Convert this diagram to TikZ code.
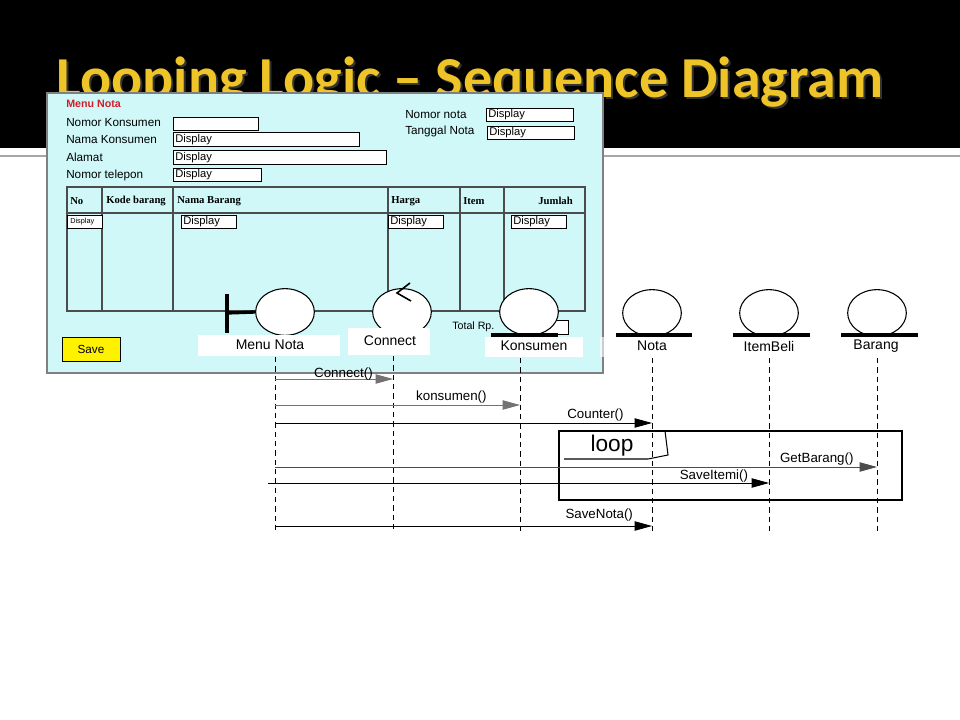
\documentclass[tikz,border=0pt]{standalone}
\usepackage{fontspec}
\usepackage{graphicx}
\setmainfont{Liberation Sans}
\newfontfamily\titlefont{Carlito}
\newfontfamily\serfont{Liberation Serif}
\usetikzlibrary{arrows.meta,shapes.geometric}
\definecolor{gold}{RGB}{238,196,40}
\definecolor{formbg}{RGB}{208,248,248}
\definecolor{redt}{RGB}{210,30,40}
\tikzset{
  lbl/.style={anchor=west,font=\fontsize{8.8}{10}\selectfont,inner sep=0pt},
  fbox/.style={draw=black,fill=white,line width=0.6pt,anchor=north west,inner sep=0pt},
  disp/.style={anchor=west,font=\fontsize{8.4}{9}\selectfont,inner sep=1.5pt},
  th/.style={anchor=west,font=\serfont\bfseries\fontsize{8}{9}\selectfont,inner sep=0pt},
  tline/.style={draw=black!70,line width=0.8pt},
  ent/.style={draw=black,fill=white,ellipse,line width=0.8pt},
  lifelbl/.style={fill=white,font=\fontsize{10.5}{12}\selectfont,inner sep=0pt},
  life/.style={dashed,line width=0.5pt,dash pattern=on 4pt off 3pt},
  msg/.style={line width=0.6pt,-{Triangle[length=13pt,width=7pt]}},
  msglbl/.style={font=\fontsize{10}{11}\selectfont,anchor=south,inner sep=1pt},
  bar/.style={line width=3pt}
}
\begin{document}
\begin{tikzpicture}[x=0.75pt,y=-0.75pt]
\useasboundingbox (0,0) rectangle (960,720);
\fill[white] (0,0) rectangle (960,720);
\fill[black] (0,0) rectangle (960,148);
\draw[black!35,line width=2pt] (0,156) -- (960,156);
% title
\node[text=black!80] (titlesh) at (472,84) {\resizebox{620pt}{!}{\titlefont\bfseries Looping Logic – Sequence Diagram}};
\node[text=gold] (title) at (470,82) {\resizebox{620pt}{!}{\titlefont\bfseries Looping Logic – Sequence Diagram}};
% form
\draw[fill=formbg,draw=black!50,line width=0.8pt] (47,93) rectangle (603,373);
\node[lbl,text=redt,font=\bfseries\fontsize{8}{9}\selectfont] (mn) at (66,104) {Menu Nota};
\node[lbl] (l1) at (66,123) {Nomor Konsumen};
\node[lbl] (l2) at (66,140) {Nama Konsumen};
\node[lbl] (l3) at (66,157) {Alamat};
\node[lbl] (l4) at (66,175) {Nomor telepon};
\draw[fbox] (173,117) rectangle (258,130);
\draw[fbox] (173,132) rectangle (359,146); \node[disp] (d2) at (173,139.5) {Display};
\draw[fbox] (173,150) rectangle (386,164); \node[disp] (d3) at (173,157.5) {Display};
\draw[fbox] (173,168) rectangle (261,181); \node[disp] (d4) at (173,175) {Display};
\node[lbl] (l5) at (405,115) {Nomor nota};
\node[lbl] (l6) at (405,131) {Tanggal Nota};
\draw[fbox] (486,108) rectangle (573,121); \node[disp] (d5) at (486,114.5) {Display};
\draw[fbox] (487,126) rectangle (574,139); \node[disp] (d6) at (487,132.5) {Display};
% table
\draw[tline] (67,187) rectangle (585,311);
\draw[tline] (67,213) -- (585,213);
\foreach \cx in {102,173,388,460,504} \draw[tline] (\cx,187) -- (\cx,311);
\node[th] (h1) at (70,201) {No};
\node[th] (h2) at (106,201) {Kode barang};
\node[th] (h3) at (177,201) {Nama Barang};
\node[th] (h4) at (391,201) {Harga};
\node[th] (h5) at (463,201) {Item};
\node[th,anchor=east] (h6) at (573,201) {Jumlah};
\draw[fbox] (67,215) rectangle (102,228); \node[disp,font=\fontsize{5.5}{6}\selectfont] (r1) at (68,221.5) {Display};
\draw[fbox] (181,215) rectangle (236,228); \node[disp] (r2) at (181,222) {Display};
\draw[fbox] (388,215) rectangle (443,228); \node[disp] (r3) at (388,222) {Display};
\draw[fbox] (511,215) rectangle (566,228); \node[disp] (r4) at (511,222) {Display};
\draw[fill=yellow,draw=black,line width=0.6pt] (62,337) rectangle (120,361);
\node[font=\fontsize{8.8}{10}\selectfont] (save) at (91,349) {Save};
\node[lbl,font=\fontsize{8}{9}\selectfont] (tot) at (452,327) {Total Rp.};
\draw[fbox] (524,320) rectangle (568,334);
% lifelines heads
\node[ent,minimum width=44pt,minimum height=35pt] (e1) at (285,312) {};
\node[ent,minimum width=44pt,minimum height=35pt] (e2) at (402,312) {};
\node[ent,minimum width=44pt,minimum height=35pt] (e3) at (529,312) {};
\node[ent,minimum width=44pt,minimum height=35pt] (e4) at (652,313) {};
\node[ent,minimum width=44pt,minimum height=35pt] (e5) at (769,313) {};
\node[ent,minimum width=44pt,minimum height=35pt] (e6) at (877,313) {};
\draw[bar] (227,294) -- (227,333);
\draw[line width=2.5pt] (227,313) -- (e1.west);
\draw[line width=1.2pt] (410,283) -- (397,293) -- (411,301);
\draw[bar] (491,335) -- (558,335);
\draw[bar] (616,335) -- (692,335);
\draw[bar] (733,335) -- (810,335);
\draw[bar] (841,335) -- (918,335);
\fill[white] (198,335) rectangle (340,356);
\fill[white] (348,328) rectangle (430,355);
\fill[white] (485,337) rectangle (583,357);
\fill[white,opacity=0.6] (600,337) rectangle (705,357);
\fill[white,opacity=0.6] (722,337) rectangle (820,357);
\fill[white,opacity=0.6] (830,337) rectangle (925,357);
\node[lifelbl] (n1) at (270,345) {Menu Nota};
\node[lifelbl] (n2) at (390,341) {Connect};
\node[lifelbl] (n3) at (534,346) {Konsumen};
\node[lifelbl] (n4) at (652,346) {Nota};
\node[lifelbl] (n5) at (769,346) {ItemBeli};
\node[lifelbl] (n6) at (876,346) {Barang};
\coordinate (b1) at (275,533); \coordinate (t1) at (275,357);
\coordinate (b2) at (393,533); \coordinate (t2) at (393,356);
\coordinate (b3) at (520,533); \coordinate (t3) at (520,358);
\coordinate (b4) at (652,533); \coordinate (t4) at (652,358);
\coordinate (b5) at (769,533); \coordinate (t5) at (769,358);
\coordinate (b6) at (877,533); \coordinate (t6) at (877,358);
\foreach \i in {1,...,6} \draw[life] (t\i) -- (b\i);
% loop frame
\draw[line width=0.8pt] (559,431) rectangle (902,500);
\draw[line width=0.8pt] (564,459) -- (648,459) -- (668,455) -- (665,431);
\node[font=\fontsize{17}{18}\selectfont,inner sep=0pt] (lp) at (612,446) {loop};
% messages
\coordinate (m1s) at (275,379); \coordinate (m1e) at (393,379);
\draw[msg,draw=black!55] (m1s) -- (m1e) node[msglbl,pos=0.58,yshift=-2pt] {Connect()};
\coordinate (m2s) at (275,405); \coordinate (m2e) at (520,405);
\draw[msg,draw=black!55] (m2s) -- (m2e) node[msglbl,pos=0.72] {konsumen()};
\coordinate (m3s) at (275,423); \coordinate (m3e) at (652,423);
\draw[msg] (m3s) -- (m3e) node[msglbl,pos=0.85] {Counter()};
\coordinate (m4s) at (275,467); \coordinate (m4e) at (877,467);
\draw[msg,draw=black!70] (m4s) -- (m4e) node[msglbl,pos=0.9] {GetBarang()};
\coordinate (m5s) at (268,483); \coordinate (m5e) at (769,483);
\draw[msg] (m5s) -- (m5e) node[msglbl,pos=0.89,yshift=-1pt] {SaveItemi()};
\coordinate (m6s) at (275,526); \coordinate (m6e) at (652,526);
\draw[msg] (m6s) -- (m6e) node[msglbl,pos=0.86,yshift=2pt] {SaveNota()};
\end{tikzpicture}
\end{document}
